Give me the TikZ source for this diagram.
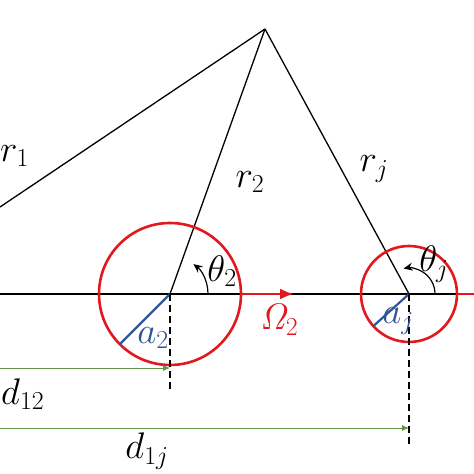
\documentclass[tikz,border=0pt]{standalone}
\usepackage{fix-cm}
\usepackage{amsmath}
\usetikzlibrary{arrows,arrows.meta,calc}
\definecolor{ringred}{RGB}{225,25,30}
\definecolor{radblue}{RGB}{47,85,151}
\definecolor{distgreen}{RGB}{100,150,70}
\tikzset{
		axis/.style={line width=1.3pt},
		ring/.style={draw=ringred,line width=2.6pt},
		radius line/.style={draw=radblue,line width=2.2pt},
		guide/.style={line width=1.3pt,dash pattern=on 7pt off 4pt},
		dist/.style={draw=distgreen,line width=0.9pt,-{Latex[length=7pt,width=6pt]}},
		turn/.style={line width=1.2pt,-{Stealth[length=9pt,width=8pt]}},
		lbl/.style={inner sep=0pt,font=\fontsize{37}{40}\selectfont},
		}

\begin{document}
\begin{tikzpicture}[x=1pt,y=1pt]
					\useasboundingbox (0,0) rectangle (474,474);
					%POINTS
					\coordinate (apex) at (265,445);
					\coordinate (far) at (0,267);
					\coordinate (c2) at (170,180);
					\coordinate (cj) at (409,180);
					\coordinate (start) at (0,180);
					\coordinate (end) at (474,180);
					\coordinate (foot2) at (170,84);
					\coordinate (footj) at (409,29);
					\coordinate (d12start) at (0,106);
					\coordinate (d12end) at (170,106);
					\coordinate (d1jstart) at (0,46);
					\coordinate (d1jend) at (409,46);
					%DISTANCES
					\draw [axis] (apex) -- (far);
					\draw [axis] (apex) -- (c2);
					\draw [axis] (apex) -- (cj);
					\draw [axis] (start) -- (end);
					%RINGS
					\draw [ring] (c2) circle (71);
					\draw [ring] (cj) circle (48);
					\draw [ringred,line width=2.6pt,-{Latex[length=14pt,width=11pt]}] ($(c2)+(71,0)$) -- ($(c2)+(124,0)$);
					\draw [ringred,line width=2.6pt] ($(cj)+(48,0)$) -- (end);
					\draw [radius line] (c2) -- ++(225:71);
					\draw [radius line] (cj) -- ++(222:48);
					%ANGLES
					\draw [turn] ($(c2)+(38,0)$) arc (0:52:38);
					\draw [turn] ($(cj)+(26,0)$) arc (0:102:26);
					%OFFSETS
					\draw [guide] (c2) -- (foot2);
					\draw [guide] (cj) -- (footj);
					\draw [dist] (d12start) -- (d12end);
					\draw [dist] (d1jstart) -- (d1jend);
					%LABELS
					\node[lbl,anchor=west] (r1) at (0,318) {$r_1$};
					\node[lbl] (r2) at (250,292) {$r_2$};
					\node[lbl] (rj) at (374,305) {$r_j$};
					\node[lbl] (th2) at (222,203) {$\theta_2$};
					\node[lbl] (thj) at (434,210) {$\theta_j$};
					\node[lbl,text=ringred] (om2) at (279,154) {$\mathit{\Omega}_2$};
					\node[lbl,text=radblue] (a2) at (153,136) {$a_2$};
					\node[lbl,text=radblue] (aj) at (398,153) {$a_j$};
					\node[lbl,anchor=west] (d12) at (1,80) {$d_{12}$};
					\node[lbl] (d1j) at (147,23) {$d_{1j}$};
				\end{tikzpicture}
\end{document}
